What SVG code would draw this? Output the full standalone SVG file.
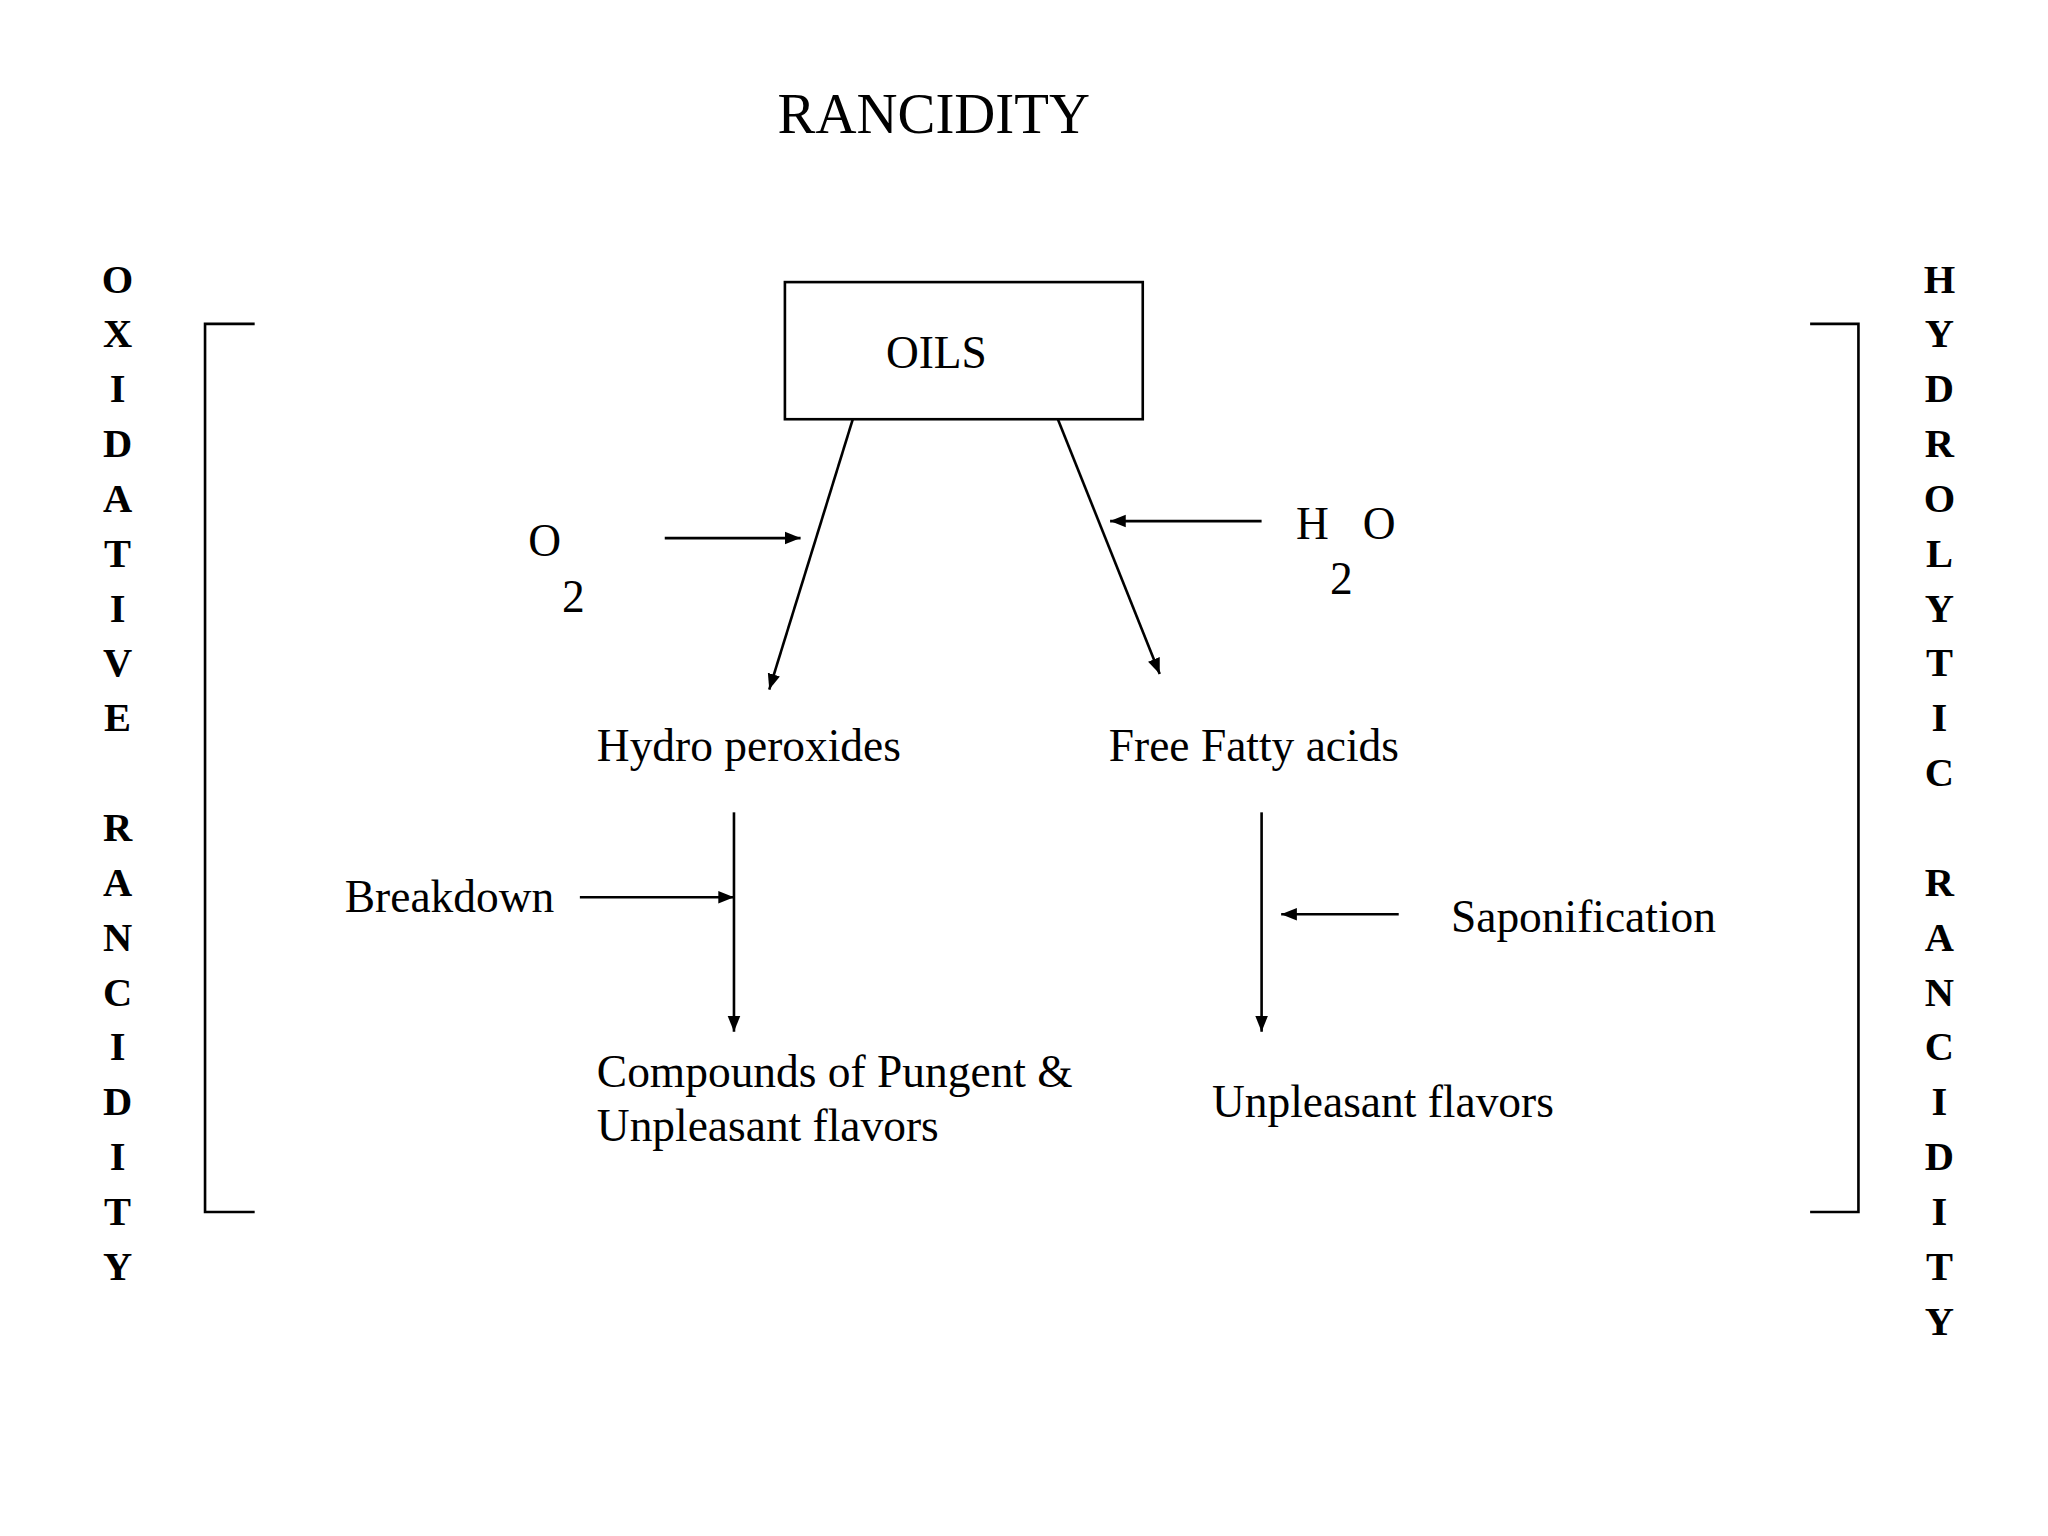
<svg xmlns="http://www.w3.org/2000/svg" width="2048" height="1536" viewBox="0 0 2048 1536">
<defs>
<marker id="ah" viewBox="0 0 10 10" refX="10" refY="5" markerWidth="12" markerHeight="12" markerUnits="userSpaceOnUse" orient="auto"><path d="M0,1 L10,5 L0,9 Z" fill="#000"/></marker>
<style>
.t{font-family:"Liberation Serif",serif;font-size:34.8px;fill:#000}
.s{font-family:"Liberation Serif",serif;font-size:31px;font-weight:bold;fill:#000;text-anchor:middle}
.l{stroke:#000;stroke-width:2;fill:none}
.a{stroke:#000;stroke-width:2;fill:none;marker-end:url(#ah)}
</style>
</defs>
<rect width="2048" height="1536" fill="#fff"/>
<g transform="scale(1.306)">
<text class="t" x="715" y="102" text-anchor="middle" style="font-size:43.5px">RANCIDITY</text>
<g id="left-label">
<text class="s" x="90" y="224">O</text><text class="s" x="90" y="266">X</text><text class="s" x="90" y="308">I</text><text class="s" x="90" y="350">D</text><text class="s" x="90" y="392">A</text><text class="s" x="90" y="434">T</text><text class="s" x="90" y="476">I</text><text class="s" x="90" y="518">V</text><text class="s" x="90" y="560">E</text>
<text class="s" x="90" y="644">R</text><text class="s" x="90" y="686">A</text><text class="s" x="90" y="728">N</text><text class="s" x="90" y="770">C</text><text class="s" x="90" y="812">I</text><text class="s" x="90" y="854">D</text><text class="s" x="90" y="896">I</text><text class="s" x="90" y="938">T</text><text class="s" x="90" y="980">Y</text>
</g>
<g id="right-label">
<text class="s" x="1485" y="224">H</text><text class="s" x="1485" y="266">Y</text><text class="s" x="1485" y="308">D</text><text class="s" x="1485" y="350">R</text><text class="s" x="1485" y="392">O</text><text class="s" x="1485" y="434">L</text><text class="s" x="1485" y="476">Y</text><text class="s" x="1485" y="518">T</text><text class="s" x="1485" y="560">I</text><text class="s" x="1485" y="602">C</text>
<text class="s" x="1485" y="686">R</text><text class="s" x="1485" y="728">A</text><text class="s" x="1485" y="770">N</text><text class="s" x="1485" y="812">C</text><text class="s" x="1485" y="854">I</text><text class="s" x="1485" y="896">D</text><text class="s" x="1485" y="938">I</text><text class="s" x="1485" y="980">T</text><text class="s" x="1485" y="1022">Y</text>
</g>
<g id="brackets">
<polyline class="l" points="195,248 157,248 157,928 195,928"/>
<polyline class="l" points="1386,248 1423,248 1423,928 1386,928"/>
</g>
<g id="oils"><rect class="l" x="601" y="216" width="274" height="105"/><text class="t" x="717" y="282" text-anchor="middle">OILS</text></g>
<g id="o2"><text class="t" x="417" y="426" text-anchor="middle">O</text><text class="t" x="439" y="469" text-anchor="middle">2</text></g>
<g id="h2o"><text class="t" x="1005" y="413" text-anchor="middle">H</text><text class="t" x="1056" y="413" text-anchor="middle">O</text><text class="t" x="1027" y="455" text-anchor="middle">2</text></g>
<g id="hydroperoxides"><text class="t" x="457" y="583">Hydro peroxides</text></g>
<g id="ffa"><text class="t" x="849" y="583">Free Fatty acids</text></g>
<g id="breakdown"><text class="t" x="264" y="698">Breakdown</text></g>
<g id="saponification"><text class="t" x="1111" y="714">Saponification</text></g>
<g id="compounds"><text class="t" x="457" y="832">Compounds of Pungent &amp;</text><text class="t" x="457" y="874">Unpleasant flavors</text></g>
<g id="unpleasant"><text class="t" x="928" y="855">Unpleasant flavors</text></g>
<g id="connectors">
<line class="a" x1="653" y1="321" x2="589" y2="528"/>
<line class="a" x1="810" y1="321" x2="888" y2="516"/>
<line class="a" x1="509" y1="412" x2="613" y2="412"/>
<line class="a" x1="966" y1="399" x2="850" y2="399"/>
<line class="a" x1="562" y1="622" x2="562" y2="790"/>
<line class="a" x1="444" y1="687" x2="562" y2="687"/>
<line class="a" x1="966" y1="622" x2="966" y2="790"/>
<line class="a" x1="1071" y1="700" x2="981" y2="700"/>
</g>
</g>
</svg>
